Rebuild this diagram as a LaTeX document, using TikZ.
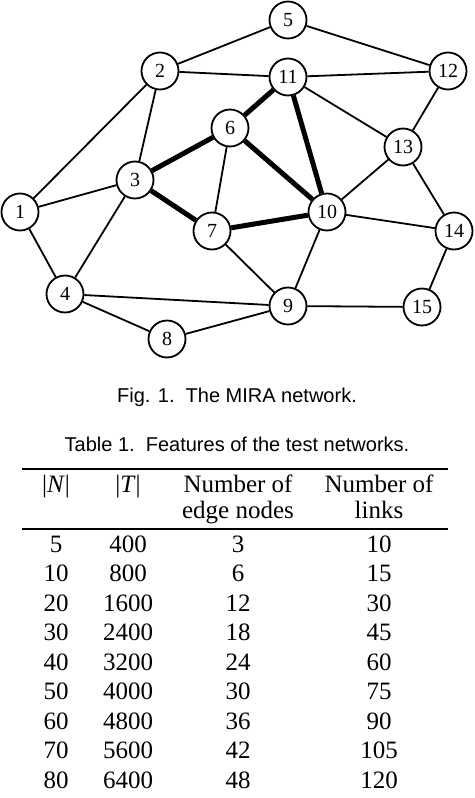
\documentclass[tikz,border=0pt]{standalone}
\usepackage{fontspec}
\setmainfont{Liberation Serif}
\newfontfamily\capfont{Liberation Sans}
\usetikzlibrary{shapes,arrows,positioning}
\tikzstyle{vnode} = [circle, draw, fill=white, line width=1.8pt, minimum size=37pt, inner sep=0pt, font=\fontsize{20}{20}\selectfont]
\tikzstyle{line} = [draw, line width=1.8pt]
\tikzstyle{tline} = [draw, line width=5pt]
\tikzstyle{captext} = [anchor=base, inner sep=0pt, font=\capfont\fontsize{20}{24}\selectfont]
\tikzstyle{cell} = [anchor=base, inner sep=0pt, font=\fontsize{25}{28}\selectfont]
\tikzstyle{tabrule} = [draw, line width=1.6pt]

\begin{document}
\begin{tikzpicture}[x=1pt, y=-1pt]
	\useasboundingbox (0,0) rectangle (474,798);

	% MIRA network
	\node [vnode] (1) at (20, 212) {1};
	\node [vnode] (2) at (160, 71) {2};
	\node [vnode] (3) at (135, 180) {3};
	\node [vnode] (4) at (65, 294) {4};
	\node [vnode] (5) at (288, 20) {5};
	\node [vnode] (6) at (230, 128) {6};
	\node [vnode] (7) at (212, 231) {7};
	\node [vnode] (8) at (167, 339) {8};
	\node [vnode] (9) at (288, 306) {9};
	\node [vnode] (10) at (327, 212) {10};
	\node [vnode] (11) at (288, 77) {11};
	\node [vnode] (12) at (448, 71) {12};
	\node [vnode] (13) at (403, 147) {13};
	\node [vnode] (14) at (454, 231) {14};
	\node [vnode] (15) at (422, 307) {15};

	\path [line] (1) -- (2);
	\path [line] (1) -- (3);
	\path [line] (1) -- (4);
	\path [line] (2) -- (5);
	\path [line] (2) -- (11);
	\path [line] (2) -- (3);
	\path [line] (3) -- (4);
	\path [line] (4) -- (9);
	\path [line] (4) -- (8);
	\path [line] (5) -- (12);
	\path [line] (6) -- (7);
	\path [line] (7) -- (9);
	\path [line] (8) -- (9);
	\path [line] (9) -- (10);
	\path [line] (9) -- (15);
	\path [line] (10) -- (13);
	\path [line] (10) -- (14);
	\path [line] (11) -- (12);
	\path [line] (11) -- (13);
	\path [line] (12) -- (13);
	\path [line] (13) -- (14);
	\path [line] (14) -- (15);

	\path [tline] (3) -- (6);
	\path [tline] (3) -- (7);
	\path [tline] (6) -- (11);
	\path [tline] (6) -- (10);
	\path [tline] (7) -- (10);
	\path [tline] (10) -- (11);

	% captions
	\node [captext] (figcap) at (237, 402) {Fig. 1.\ \ The MIRA network.};
	\node [captext] (tabcap) at (237, 451) {Table 1.\ \ Features of the test networks.};

	% table
	\path [tabrule] (22, 469) -- (448, 469);
	\path [tabrule] (22, 529) -- (448, 529);

	\node [cell] (hN) at (56, 492) {|\textit{N}|};
	\node [cell] (hT) at (128, 492) {|\textit{T}|};
	\node [cell] (he1) at (238, 492) {Number of};
	\node [cell] (he2) at (238, 518) {edge nodes};
	\node [cell] (hl1) at (379, 492) {Number of};
	\node [cell] (hl2) at (379, 518) {links};

	\foreach \n/\t/\e/\l [count=\i from 0] in {5/400/3/10, 10/800/6/15, 20/1600/12/30, 30/2400/18/45, 40/3200/24/60, 50/4000/30/75, 60/4800/36/90, 70/5600/42/105, 80/6400/48/120} {
		\node [cell] (n\i) at (56, {552+29.5*\i}) {\n};
		\node [cell] (t\i) at (128, {552+29.5*\i}) {\t};
		\node [cell] (e\i) at (238, {552+29.5*\i}) {\e};
		\node [cell] (l\i) at (379, {552+29.5*\i}) {\l};
	}
\end{tikzpicture}
\end{document}
